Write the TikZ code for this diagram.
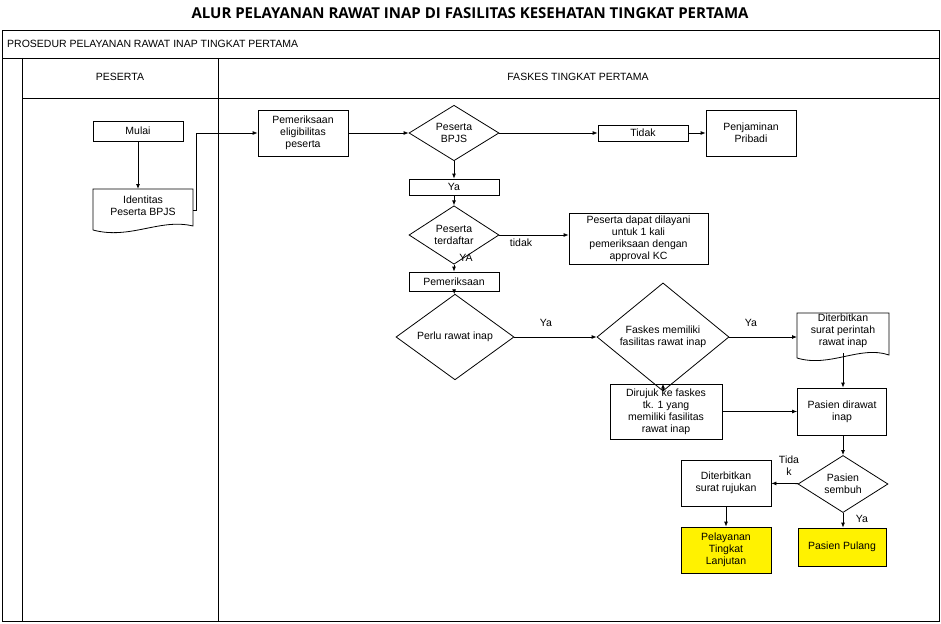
\documentclass[tikz,border=0pt]{standalone}
\usepackage{fontspec}
\setmainfont{Liberation Sans}
\newfontfamily\titlefont{Open Sans}
\usetikzlibrary{shapes.geometric,arrows.meta}
\begin{document}
\begin{tikzpicture}[x=1pt,y=-1pt,
  every node/.style={font=\fontsize{10.5}{12}\selectfont, align=center, inner sep=1pt},
  box/.style={draw, thick, minimum width=#1, anchor=center},
  dia/.style={draw, thick, diamond, aspect=2, inner sep=0pt},
  arr/.style={thick, -{Latex[length=5pt,width=4pt]}},
  ln/.style={thick},
  yel/.style={fill=yellow}]
\useasboundingbox (0,0) rectangle (941,623);
\node (title) at (470,13) {\titlefont\bfseries\fontsize{15}{17}\selectfont ALUR PELAYANAN RAWAT INAP DI FASILITAS KESEHATAN TINGKAT PERTAMA};
\draw[ln] (2,30) rectangle (939,621);
\draw[ln] (2,58) -- (939,58);
\draw[ln] (22,58) -- (22,621);
\draw[ln] (218,58) -- (218,621);
\draw[ln] (22,98) -- (939,98);
\node[anchor=west] (proc) at (6,44) {PROSEDUR PELAYANAN RAWAT INAP TINGKAT PERTAMA};
\node (pes) at (120,77) {PESERTA};
\node (fas) at (578,77) {FASKES TINGKAT PERTAMA};

% nodes
\node[draw,thick,minimum width=90,minimum height=20] (mulai) at (138,131) {Mulai};
\coordinate (idA) at (93,189); \coordinate (idB) at (193,226);
\draw[thick] (93,230) -- (93,189) -- (193,189) -- (193,226) .. controls (160,218) and (130,240) .. (93,230);
\node (id) at (143,206) {Identitas\\Peserta BPJS};
\node[draw,thick,minimum width=90,minimum height=46] (elig) at (303,133) {Pemeriksaan\\eligibilitas\\peserta};
\node[draw,thick,diamond,minimum width=90,minimum height=46,inner sep=0pt] (bpjs) at (454,133) {Peserta\\BPJS};
\node[draw,thick,minimum width=90,minimum height=16] (tidak) at (643,133) {Tidak};
\node[draw,thick,minimum width=90,minimum height=46] (pribadi) at (751,133) {Penjaminan\\Pribadi};
\node[draw,thick,minimum width=90,minimum height=16] (ya) at (454,187) {Ya};
\node[draw,thick,diamond,minimum width=90,minimum height=46,inner sep=0pt] (terdaftar) at (454,235) {Peserta\\terdaftar};
\node[draw,thick,minimum width=139,minimum height=51] (kc) at (638.5,238.5) {Peserta dapat dilayani\\untuk 1 kali\\pemeriksaan dengan\\approval KC};
\node[draw,thick,minimum width=90,minimum height=19] (periksa) at (454,281.5) {Pemeriksaan};
\node[draw,thick,diamond,minimum width=118,minimum height=46,inner sep=0pt] (perlu) at (455,337) {Perlu rawat inap};
\node[draw,thick,diamond,minimum width=132,minimum height=70,inner sep=0pt] (faskes) at (663,337) {Faskes memiliki\\fasilitas rawat inap};
\draw[thick] (797,358) -- (797,313) -- (889,313) -- (889,355) .. controls (860,345) and (830,368) .. (797,358);
\coordinate (sp) at (843,353);
\node (spri) at (843,331) {Diterbitkan\\surat perintah\\rawat inap};
\node[draw,thick,minimum width=112,minimum height=55] (rujuk) at (666,411.5) {Dirujuk ke faskes\\tk. 1 yang\\memiliki fasilitas\\rawat inap};
\node[draw,thick,minimum width=89,minimum height=47] (dirawat) at (842,411.5) {Pasien dirawat\\inap};
\node[draw,thick,diamond,minimum width=90,minimum height=46,inner sep=0pt] (sembuh) at (843,484) {Pasien\\sembuh};
\node[draw,thick,minimum width=90,minimum height=46] (srujuk) at (726,483) {Diterbitkan\\surat rujukan};
\node[draw,thick,fill=yellow,minimum width=90,minimum height=46] (lanjut) at (726,550) {Pelayanan\\Tingkat\\Lanjutan};
\node[draw,thick,fill=yellow,minimum width=88,minimum height=38] (pulang) at (842,547) {Pasien Pulang};

% connectors
\draw[arr] (mulai) -- (138,189);
\coordinate (c1) at (196,210); \coordinate (c2) at (196,133);
\draw[arr] (193,210) -- (c1) -- (c2) -- (elig.west);
\draw[arr] (elig) -- (bpjs);
\draw[arr] (bpjs) -- (tidak);
\draw[arr] (tidak) -- (pribadi);
\draw[arr] (bpjs) -- (ya);
\draw[arr] (ya) -- (terdaftar);
\draw[arr] (terdaftar.east) -- (kc.west |- terdaftar.east);
\node (ltidak) at (521,243) {tidak};
\node (lya1) at (466,258) {YA};
\draw[arr] (terdaftar) -- (periksa);
\draw[arr] (periksa) -- (perlu);
\draw[arr] (perlu) -- (faskes);
\node (lya2) at (546,323) {Ya};
\draw[arr] (faskes) -- (797,337);
\node (lya3) at (751,323) {Ya};
\draw[arr] (faskes.south) -- (rujuk.north -| faskes.south);
\draw[arr] (sp) -- (sp |- dirawat.north);
\draw[arr] (rujuk) -- (dirawat);
\draw[arr] (dirawat.south -| sembuh.north) -- (sembuh);
\draw[arr] (sembuh) -- (srujuk);
\node (ltida) at (789,466) {Tida\\k};
\draw[arr] (srujuk) -- (lanjut);
\draw[arr] (sembuh.south) -- (pulang.north -| sembuh.south);
\node (lya4) at (862,519) {Ya};
\end{tikzpicture}
\end{document}
